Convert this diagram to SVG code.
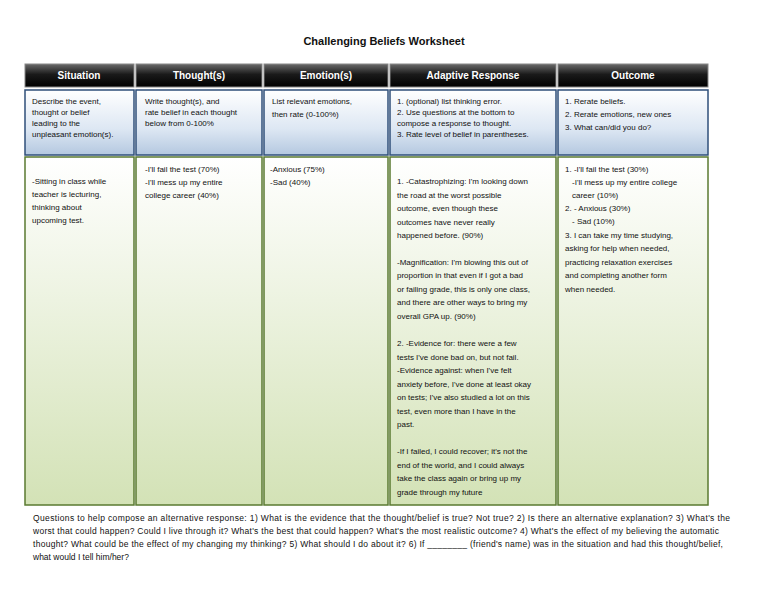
<svg xmlns="http://www.w3.org/2000/svg" width="768" height="594" viewBox="0 0 768 594">
<defs>
<linearGradient id="hd" x1="0" y1="0" x2="0" y2="1"><stop offset="0" stop-color="#6a6a6a"/><stop offset="0.45" stop-color="#1a1a1a"/><stop offset="1" stop-color="#000"/></linearGradient>
<linearGradient id="bl" x1="0" y1="0" x2="0" y2="1"><stop offset="0" stop-color="#ffffff"/><stop offset="0.6" stop-color="#dde7f3"/><stop offset="1" stop-color="#b4c8e0"/></linearGradient>
<linearGradient id="gr" x1="0" y1="0" x2="0" y2="1"><stop offset="0" stop-color="#ffffff"/><stop offset="1" stop-color="#d3e2b6"/></linearGradient>
</defs>
<style>
text{font-family:"Liberation Sans",Arial,sans-serif;font-size:8px;fill:#111}
.h{fill:#fff;font-size:10px;font-weight:bold;text-anchor:middle}
.hr{fill:url(#hd);stroke:#888;stroke-width:1}
.b{fill:url(#bl);stroke:#2f4f7a;stroke-width:1.5}
.g{fill:url(#gr);stroke:#5a7a30;stroke-width:1.5}
.t{font-size:11px;font-weight:bold;text-anchor:middle}
.q{font-size:8.5px}
</style>
<rect width="768" height="594" fill="#fff"/>
<text class="t" x="384" y="45">Challenging Beliefs Worksheet</text>
<g id="headers">
<rect class="hr" x="25" y="64" width="109" height="23"/><text class="h" x="79" y="79">Situation</text>
<rect class="hr" x="136" y="64" width="126" height="23"/><text class="h" x="199" y="79">Thought(s)</text>
<rect class="hr" x="264" y="64" width="124" height="23"/><text class="h" x="326" y="79">Emotion(s)</text>
<rect class="hr" x="390" y="64" width="166" height="23"/><text class="h" x="473" y="79">Adaptive Response</text>
<rect class="hr" x="558" y="64" width="150" height="23"/><text class="h" x="633" y="79">Outcome</text>
</g>
<g id="instructions">
<rect class="b" x="25" y="90" width="109" height="65"/>
<text x="32" y="104">Describe the event,</text><text x="32" y="115">thought or belief</text><text x="32" y="126">leading to the</text><text x="32" y="137">unpleasant emotion(s).</text>
<rect class="b" x="136" y="90" width="126" height="65"/>
<text x="145" y="104">Write thought(s), and</text><text x="145" y="115">rate belief in each thought</text><text x="145" y="126">below from 0-100%</text>
<rect class="b" x="264" y="90" width="124" height="65"/>
<text x="272" y="104">List relevant emotions,</text><text x="272" y="117">then rate (0-100%)</text>
<rect class="b" x="390" y="90" width="166" height="65"/>
<text x="397" y="104">1. (optional) list thinking error.</text><text x="397" y="115">2. Use questions at the bottom to</text><text x="397" y="126">compose a response to thought.</text><text x="397" y="137">3. Rate level of belief in parentheses.</text>
<rect class="b" x="558" y="90" width="150" height="65"/>
<text x="565" y="104">1. Rerate beliefs.</text><text x="565" y="117">2. Rerate emotions, new ones</text><text x="565" y="130">3. What can/did you do?</text>
</g>
<g id="example">
<rect class="g" x="25" y="157" width="109" height="348"/>
<text x="32" y="184">-Sitting in class while</text><text x="32" y="197">teacher is lecturing,</text><text x="32" y="210">thinking about</text><text x="32" y="223">upcoming test.</text>
<rect class="g" x="136" y="157" width="126" height="348"/>
<text x="145" y="172">-I'll fail the test (70%)</text><text x="145" y="185">-I'll mess up my entire</text><text x="145" y="198">college career (40%)</text>
<rect class="g" x="264" y="157" width="124" height="348"/>
<text x="270" y="172">-Anxious (75%)</text><text x="270" y="185">-Sad (40%)</text>
<rect class="g" x="390" y="157" width="166" height="348"/>
<text x="397" y="184">1. -Catastrophizing: I'm looking down</text>
<text x="397" y="198">the road at the worst possible</text>
<text x="397" y="211">outcome, even though these</text>
<text x="397" y="225">outcomes have never really</text>
<text x="397" y="238">happened before. (90%)</text>
<text x="397" y="265">-Magnification: I'm blowing this out of</text>
<text x="397" y="278">proportion in that even if I got a bad</text>
<text x="397" y="292">or failing grade, this is only one class,</text>
<text x="397" y="305">and there are other ways to bring my</text>
<text x="397" y="319">overall GPA up. (90%)</text>
<text x="397" y="346">2. -Evidence for: there were a few</text>
<text x="397" y="360">tests I've done bad on, but not fail.</text>
<text x="397" y="373">-Evidence against: when I've felt</text>
<text x="397" y="387">anxiety before, I've done at least okay</text>
<text x="397" y="400">on tests; I've also studied a lot on this</text>
<text x="397" y="414">test, even more than I have in the</text>
<text x="397" y="427">past.</text>
<text x="397" y="454">-If I failed, I could recover; it's not the</text>
<text x="397" y="468">end of the world, and I could always</text>
<text x="397" y="481">take the class again or bring up my</text>
<text x="397" y="495">grade through my future</text>
<rect class="g" x="558" y="157" width="150" height="348"/>
<text x="565" y="172">1. -I'll fail the test (30%)</text>
<text x="572" y="185">-I'll mess up my entire college</text>
<text x="572" y="198">career (10%)</text>
<text x="565" y="211">2. - Anxious (30%)</text>
<text x="572" y="224">- Sad (10%)</text>
<text x="565" y="238">3. I can take my time studying,</text>
<text x="565" y="251">asking for help when needed,</text>
<text x="565" y="265">practicing relaxation exercises</text>
<text x="565" y="278">and completing another form</text>
<text x="565" y="292">when needed.</text>
</g>
<g id="questions">
<text class="q" x="33" y="521" textLength="697" lengthAdjust="spacing">Questions to help compose an alternative response: 1) What is the evidence that the thought/belief is true?  Not true? 2) Is there an alternative explanation? 3) What's the</text>
<text class="q" x="33" y="534" textLength="686" lengthAdjust="spacing">worst that could happen? Could I live through it? What's the best that could happen? What's the most realistic outcome? 4) What's the effect of my believing the automatic</text>
<text class="q" x="33" y="547" textLength="690" lengthAdjust="spacing">thought?  What could be the effect of my changing my thinking? 5) What should I do about it? 6) If ________ (friend's name) was in the situation and had this thought/belief,</text>
<text class="q" x="33" y="560">what would I tell him/her?</text>
</g>
</svg>
